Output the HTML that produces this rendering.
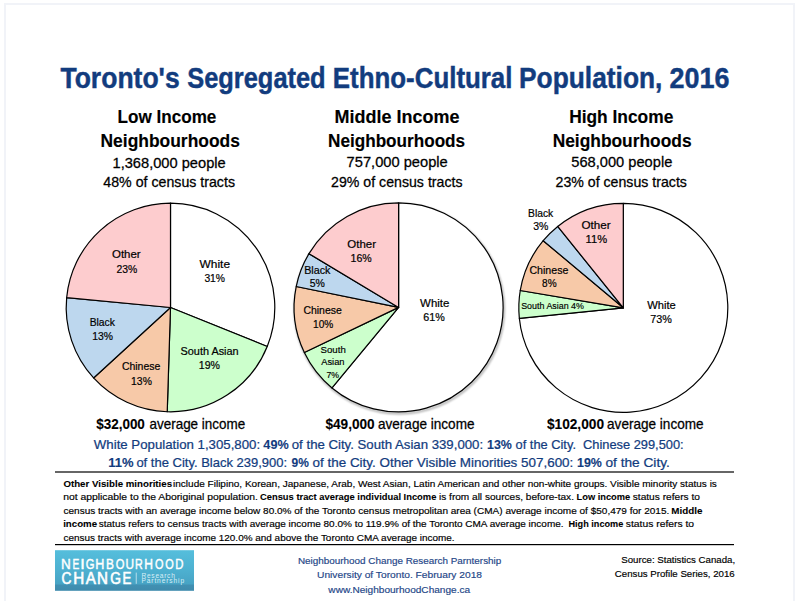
<!DOCTYPE html>
<html><head><meta charset="utf-8"><style>
html,body{margin:0;padding:0;background:#fff;width:795px;height:601px;overflow:hidden}
svg{display:block;font-family:"Liberation Sans",sans-serif}
</style></head><body>
<svg width="795" height="601" viewBox="0 0 795 601">
<rect x="0" y="0" width="795" height="601" fill="#fff"/>
<rect x="5" y="4" width="789" height="620" fill="none" stroke="#F1F3F8" stroke-width="2"/>
<path d="M170.5,307.5 L170.50,203.20 A104.3,104.3 0 0 1 267.23,346.50 Z" fill="#FFFFFF" stroke="#000" stroke-width="1.2" stroke-linejoin="round"/>
<path d="M170.5,307.5 L267.23,346.50 A104.3,104.3 0 0 1 167.22,411.75 Z" fill="#CCFFCC" stroke="#000" stroke-width="1.2" stroke-linejoin="round"/>
<path d="M170.5,307.5 L167.22,411.75 A104.3,104.3 0 0 1 93.58,377.94 Z" fill="#F7C9A8" stroke="#000" stroke-width="1.2" stroke-linejoin="round"/>
<path d="M170.5,307.5 L93.58,377.94 A104.3,104.3 0 0 1 66.66,297.68 Z" fill="#BDD7EE" stroke="#000" stroke-width="1.2" stroke-linejoin="round"/>
<path d="M170.5,307.5 L66.66,297.68 A104.3,104.3 0 0 1 170.50,203.20 Z" fill="#FDCCCE" stroke="#000" stroke-width="1.2" stroke-linejoin="round"/>
<defs><filter id="sh" x="-10%" y="-10%" width="120%" height="120%"><feGaussianBlur stdDeviation="1.2"/></filter></defs>
<circle cx="399.4" cy="309" r="104.5" fill="none" stroke="#000" stroke-width="2" opacity="0.35" filter="url(#sh)"/>
<path d="M398.6,307.4 L398.60,202.90 A104.5,104.5 0 1 1 331.99,387.92 Z" fill="#FFFFFF" stroke="#000" stroke-width="1.2" stroke-linejoin="round"/>
<path d="M398.6,307.4 L331.99,387.92 A104.5,104.5 0 0 1 304.33,352.49 Z" fill="#CCFFCC" stroke="#000" stroke-width="1.2" stroke-linejoin="round"/>
<path d="M398.6,307.4 L304.33,352.49 A104.5,104.5 0 0 1 296.21,286.53 Z" fill="#F7C9A8" stroke="#000" stroke-width="1.2" stroke-linejoin="round"/>
<path d="M398.6,307.4 L296.21,286.53 A104.5,104.5 0 0 1 308.99,253.64 Z" fill="#BDD7EE" stroke="#000" stroke-width="1.2" stroke-linejoin="round"/>
<path d="M398.6,307.4 L308.99,253.64 A104.5,104.5 0 0 1 398.60,202.90 Z" fill="#FDCCCE" stroke="#000" stroke-width="1.2" stroke-linejoin="round"/>
<path d="M623.3,307.8 L623.30,203.30 A104.5,104.5 0 1 1 519.33,318.29 Z" fill="#FFFFFF" stroke="#000" stroke-width="1.2" stroke-linejoin="round"/>
<path d="M623.3,307.8 L519.33,318.29 A104.5,104.5 0 0 1 520.25,290.48 Z" fill="#CCFFCC" stroke="#000" stroke-width="1.2" stroke-linejoin="round"/>
<path d="M623.3,307.8 L520.25,290.48 A104.5,104.5 0 0 1 543.20,240.68 Z" fill="#F7C9A8" stroke="#000" stroke-width="1.2" stroke-linejoin="round"/>
<path d="M623.3,307.8 L543.20,240.68 A104.5,104.5 0 0 1 557.71,226.45 Z" fill="#BDD7EE" stroke="#000" stroke-width="1.2" stroke-linejoin="round"/>
<path d="M623.3,307.8 L557.71,226.45 A104.5,104.5 0 0 1 623.30,203.30 Z" fill="#FDCCCE" stroke="#000" stroke-width="1.2" stroke-linejoin="round"/>
<text x="60.46" y="87.7" font-size="28.8" font-weight="bold" fill="#123C7E" stroke="#123C7E" stroke-width="0.45" textLength="119.21" lengthAdjust="spacingAndGlyphs" xml:space="preserve">Toronto's</text>
<text x="187.26" y="87.7" font-size="28.8" font-weight="bold" fill="#123C7E" stroke="#123C7E" stroke-width="0.45" textLength="138.40" lengthAdjust="spacingAndGlyphs" xml:space="preserve">Segregated</text>
<text x="332.84" y="87.7" font-size="28.8" font-weight="bold" fill="#123C7E" stroke="#123C7E" stroke-width="0.45" textLength="179.61" lengthAdjust="spacingAndGlyphs" xml:space="preserve">Ethno-Cultural</text>
<text x="519.01" y="87.7" font-size="28.8" font-weight="bold" fill="#123C7E" stroke="#123C7E" stroke-width="0.45" textLength="143.38" lengthAdjust="spacingAndGlyphs" xml:space="preserve">Population,</text>
<text x="669.48" y="87.7" font-size="28.8" font-weight="bold" fill="#123C7E" stroke="#123C7E" stroke-width="0.45" textLength="59.93" lengthAdjust="spacingAndGlyphs" xml:space="preserve">2016</text>
<text x="117.56" y="122.6" font-size="17.8" font-weight="bold" fill="#000" stroke="#000" stroke-width="0.142" textLength="98.83" lengthAdjust="spacingAndGlyphs" xml:space="preserve">Low Income</text>
<text x="100.54" y="146.5" font-size="17.8" font-weight="bold" fill="#000" stroke="#000" stroke-width="0.142" textLength="139.37" lengthAdjust="spacingAndGlyphs" xml:space="preserve">Neighbourhoods</text>
<text x="112.53" y="167.9" font-size="14.5" fill="#000" stroke="#000" stroke-width="0.261" textLength="113.19" lengthAdjust="spacingAndGlyphs" xml:space="preserve">1,368,000 people</text>
<text x="103.35" y="186.8" font-size="14.5" fill="#000" stroke="#000" stroke-width="0.261" textLength="131.65" lengthAdjust="spacingAndGlyphs" xml:space="preserve">48% of census tracts</text>
<text x="334.60" y="122.5" font-size="17.8" font-weight="bold" fill="#000" stroke="#000" stroke-width="0.142" textLength="124.86" lengthAdjust="spacingAndGlyphs" xml:space="preserve">Middle Income</text>
<text x="328.06" y="146.5" font-size="17.8" font-weight="bold" fill="#000" stroke="#000" stroke-width="0.142" textLength="137.04" lengthAdjust="spacingAndGlyphs" xml:space="preserve">Neighbourhoods</text>
<text x="346.60" y="167.4" font-size="14.5" fill="#000" stroke="#000" stroke-width="0.261" textLength="101.14" lengthAdjust="spacingAndGlyphs" xml:space="preserve">757,000 people</text>
<text x="331.12" y="186.5" font-size="14.5" fill="#000" stroke="#000" stroke-width="0.261" textLength="131.37" lengthAdjust="spacingAndGlyphs" xml:space="preserve">29% of census tracts</text>
<text x="569.14" y="122.5" font-size="17.8" font-weight="bold" fill="#000" stroke="#000" stroke-width="0.142" textLength="104.20" lengthAdjust="spacingAndGlyphs" xml:space="preserve">High Income</text>
<text x="552.64" y="146.5" font-size="17.8" font-weight="bold" fill="#000" stroke="#000" stroke-width="0.142" textLength="138.97" lengthAdjust="spacingAndGlyphs" xml:space="preserve">Neighbourhoods</text>
<text x="571.34" y="167.4" font-size="14.5" fill="#000" stroke="#000" stroke-width="0.261" textLength="100.99" lengthAdjust="spacingAndGlyphs" xml:space="preserve">568,000 people</text>
<text x="555.52" y="186.5" font-size="14.5" fill="#000" stroke="#000" stroke-width="0.261" textLength="131.37" lengthAdjust="spacingAndGlyphs" xml:space="preserve">23% of census tracts</text>
<text x="111.99" y="258.3" font-size="11.3" fill="#000" stroke="#000" stroke-width="0.203" textLength="28.70" lengthAdjust="spacingAndGlyphs" xml:space="preserve">Other</text>
<text x="116.38" y="272.8" font-size="11.3" fill="#000" stroke="#000" stroke-width="0.203" textLength="20.80" lengthAdjust="spacingAndGlyphs" xml:space="preserve">23%</text>
<text x="199.54" y="267.9" font-size="11.3" fill="#000" stroke="#000" stroke-width="0.203" textLength="30.51" lengthAdjust="spacingAndGlyphs" xml:space="preserve">White</text>
<text x="204.39" y="281.7" font-size="11.3" fill="#000" stroke="#000" stroke-width="0.203" textLength="20.69" lengthAdjust="spacingAndGlyphs" xml:space="preserve">31%</text>
<text x="89.68" y="325.8" font-size="11.3" fill="#000" stroke="#000" stroke-width="0.203" textLength="25.23" lengthAdjust="spacingAndGlyphs" xml:space="preserve">Black</text>
<text x="92.32" y="339.6" font-size="11.3" fill="#000" stroke="#000" stroke-width="0.203" textLength="20.75" lengthAdjust="spacingAndGlyphs" xml:space="preserve">13%</text>
<text x="180.51" y="354.8" font-size="11.3" fill="#000" stroke="#000" stroke-width="0.203" textLength="58.12" lengthAdjust="spacingAndGlyphs" xml:space="preserve">South Asian</text>
<text x="198.81" y="368.6" font-size="11.3" fill="#000" stroke="#000" stroke-width="0.203" textLength="21.18" lengthAdjust="spacingAndGlyphs" xml:space="preserve">19%</text>
<text x="121.88" y="370" font-size="11.3" fill="#000" stroke="#000" stroke-width="0.203" textLength="38.48" lengthAdjust="spacingAndGlyphs" xml:space="preserve">Chinese</text>
<text x="131.12" y="384.5" font-size="11.3" fill="#000" stroke="#000" stroke-width="0.203" textLength="20.75" lengthAdjust="spacingAndGlyphs" xml:space="preserve">13%</text>
<text x="347.29" y="248.1" font-size="11.3" fill="#000" stroke="#000" stroke-width="0.203" textLength="28.70" lengthAdjust="spacingAndGlyphs" xml:space="preserve">Other</text>
<text x="350.61" y="261.5" font-size="11.3" fill="#000" stroke="#000" stroke-width="0.203" textLength="21.18" lengthAdjust="spacingAndGlyphs" xml:space="preserve">16%</text>
<text x="304.14" y="273.9" font-size="11.3" fill="#000" stroke="#000" stroke-width="0.203" textLength="26.26" lengthAdjust="spacingAndGlyphs" xml:space="preserve">Black</text>
<text x="309.68" y="287.3" font-size="11.3" fill="#000" stroke="#000" stroke-width="0.203" textLength="15.19" lengthAdjust="spacingAndGlyphs" xml:space="preserve">5%</text>
<text x="303.38" y="314.4" font-size="11.3" fill="#000" stroke="#000" stroke-width="0.203" textLength="38.48" lengthAdjust="spacingAndGlyphs" xml:space="preserve">Chinese</text>
<text x="313.04" y="327.5" font-size="11.3" fill="#000" stroke="#000" stroke-width="0.203" textLength="20.22" lengthAdjust="spacingAndGlyphs" xml:space="preserve">10%</text>
<text x="320.55" y="352.7" font-size="9.2" fill="#000" stroke="#000" stroke-width="0.166" textLength="25.23" lengthAdjust="spacingAndGlyphs" xml:space="preserve">South</text>
<text x="321.28" y="365.4" font-size="9.2" fill="#000" stroke="#000" stroke-width="0.166" textLength="23.25" lengthAdjust="spacingAndGlyphs" xml:space="preserve">Asian</text>
<text x="326.45" y="377.8" font-size="9.2" fill="#000" stroke="#000" stroke-width="0.166" textLength="12.58" lengthAdjust="spacingAndGlyphs" xml:space="preserve">7%</text>
<text x="420.14" y="307.4" font-size="11.3" fill="#000" stroke="#000" stroke-width="0.203" textLength="29.28" lengthAdjust="spacingAndGlyphs" xml:space="preserve">White</text>
<text x="423.36" y="320.8" font-size="11.3" fill="#000" stroke="#000" stroke-width="0.203" textLength="21.53" lengthAdjust="spacingAndGlyphs" xml:space="preserve">61%</text>
<text x="528.08" y="216.8" font-size="11.3" fill="#000" stroke="#000" stroke-width="0.203" textLength="25.12" lengthAdjust="spacingAndGlyphs" xml:space="preserve">Black</text>
<text x="533.28" y="230.2" font-size="11.3" fill="#000" stroke="#000" stroke-width="0.203" textLength="15.19" lengthAdjust="spacingAndGlyphs" xml:space="preserve">3%</text>
<text x="581.48" y="228.5" font-size="11.3" fill="#000" stroke="#000" stroke-width="0.203" textLength="29.11" lengthAdjust="spacingAndGlyphs" xml:space="preserve">Other</text>
<text x="585.57" y="243.3" font-size="11.3" fill="#000" stroke="#000" stroke-width="0.203" textLength="21.49" lengthAdjust="spacingAndGlyphs" xml:space="preserve">11%</text>
<text x="529.47" y="273.9" font-size="11.3" fill="#000" stroke="#000" stroke-width="0.203" textLength="38.89" lengthAdjust="spacingAndGlyphs" xml:space="preserve">Chinese</text>
<text x="542.05" y="287.3" font-size="11.3" fill="#000" stroke="#000" stroke-width="0.203" textLength="14.50" lengthAdjust="spacingAndGlyphs" xml:space="preserve">8%</text>
<text x="521.18" y="308.7" font-size="8.9" fill="#000" stroke="#000" stroke-width="0.16" textLength="62.76" lengthAdjust="spacingAndGlyphs" xml:space="preserve">South Asian 4%</text>
<text x="647.15" y="308.7" font-size="11.3" fill="#000" stroke="#000" stroke-width="0.203" textLength="28.57" lengthAdjust="spacingAndGlyphs" xml:space="preserve">White</text>
<text x="650.26" y="323.1" font-size="11.3" fill="#000" stroke="#000" stroke-width="0.203" textLength="21.63" lengthAdjust="spacingAndGlyphs" xml:space="preserve">73%</text>
<text x="96.16" y="428.5" font-size="14.5" font-weight="bold" fill="#000" stroke="#000" stroke-width="0.116" textLength="48.72" lengthAdjust="spacingAndGlyphs" xml:space="preserve">$32,000</text>
<text x="149.49" y="428.5" font-size="14.5" fill="#000" stroke="#000" stroke-width="0.261" textLength="95.69" lengthAdjust="spacingAndGlyphs" xml:space="preserve">average income</text>
<text x="325.45" y="428.5" font-size="14.5" font-weight="bold" fill="#000" stroke="#000" stroke-width="0.116" textLength="49.23" lengthAdjust="spacingAndGlyphs" xml:space="preserve">$49,000</text>
<text x="377.99" y="428.5" font-size="14.5" fill="#000" stroke="#000" stroke-width="0.261" textLength="96.50" lengthAdjust="spacingAndGlyphs" xml:space="preserve">average income</text>
<text x="546.95" y="428.5" font-size="14.5" font-weight="bold" fill="#000" stroke="#000" stroke-width="0.116" textLength="57.05" lengthAdjust="spacingAndGlyphs" xml:space="preserve">$102,000</text>
<text x="607.09" y="428.5" font-size="14.5" fill="#000" stroke="#000" stroke-width="0.261" textLength="96.50" lengthAdjust="spacingAndGlyphs" xml:space="preserve">average income</text>
<text x="93.85" y="448.7" font-size="13" fill="#123C7E" stroke="#123C7E" stroke-width="0.234" textLength="166.29" lengthAdjust="spacingAndGlyphs" xml:space="preserve">White Population 1,305,800:</text>
<text x="263.36" y="448.7" font-size="13" font-weight="bold" fill="#123C7E" stroke="#123C7E" stroke-width="0.104" textLength="25.32" lengthAdjust="spacingAndGlyphs" xml:space="preserve">49%</text>
<text x="291.79" y="448.7" font-size="13" fill="#123C7E" stroke="#123C7E" stroke-width="0.234" textLength="191.30" lengthAdjust="spacingAndGlyphs" xml:space="preserve">of the City. South Asian 339,000:</text>
<text x="487.01" y="448.7" font-size="13" font-weight="bold" fill="#123C7E" stroke="#123C7E" stroke-width="0.104" textLength="24.87" lengthAdjust="spacingAndGlyphs" xml:space="preserve">13%</text>
<text x="515.60" y="448.7" font-size="13" fill="#123C7E" stroke="#123C7E" stroke-width="0.234" textLength="168.04" lengthAdjust="spacingAndGlyphs" xml:space="preserve">of the City.  Chinese 299,500:</text>
<text x="108.17" y="466.8" font-size="13" font-weight="bold" fill="#123C7E" stroke="#123C7E" stroke-width="0.104" textLength="25.32" lengthAdjust="spacingAndGlyphs" xml:space="preserve">11%</text>
<text x="136.40" y="466.8" font-size="13" fill="#123C7E" stroke="#123C7E" stroke-width="0.234" textLength="150.71" lengthAdjust="spacingAndGlyphs" xml:space="preserve">of the City. Black 239,900:</text>
<text x="291.53" y="466.8" font-size="13" font-weight="bold" fill="#123C7E" stroke="#123C7E" stroke-width="0.104" textLength="17.32" lengthAdjust="spacingAndGlyphs" xml:space="preserve">9%</text>
<text x="312.58" y="466.8" font-size="13" fill="#123C7E" stroke="#123C7E" stroke-width="0.234" textLength="260.74" lengthAdjust="spacingAndGlyphs" xml:space="preserve">of the City. Other Visible Minorities 507,600:</text>
<text x="577.01" y="466.8" font-size="13" font-weight="bold" fill="#123C7E" stroke="#123C7E" stroke-width="0.104" textLength="24.87" lengthAdjust="spacingAndGlyphs" xml:space="preserve">19%</text>
<text x="605.47" y="466.8" font-size="13" fill="#123C7E" stroke="#123C7E" stroke-width="0.234" textLength="64.35" lengthAdjust="spacingAndGlyphs" xml:space="preserve">of the City.</text>
<rect x="55" y="471" width="679" height="2" fill="#666"/>
<rect x="55" y="544" width="679" height="1.2" fill="#000"/>
<text x="63.45" y="486.8" font-size="9.8" font-weight="bold" fill="#000" stroke="#000" stroke-width="0.078" textLength="108.62" lengthAdjust="spacingAndGlyphs" xml:space="preserve">Other Visible minorities</text>
<text x="173.04" y="486.8" font-size="9.8" fill="#000" stroke="#000" stroke-width="0.176" textLength="543.84" lengthAdjust="spacingAndGlyphs" xml:space="preserve">include Filipino, Korean, Japanese, Arab, West Asian, Latin American and other non-white groups. Visible minority status is</text>
<text x="63.21" y="499.8" font-size="9.8" fill="#000" stroke="#000" stroke-width="0.176" textLength="194.66" lengthAdjust="spacingAndGlyphs" xml:space="preserve">not applicable to the Aboriginal population.</text>
<text x="259.96" y="499.8" font-size="9.8" font-weight="bold" fill="#000" stroke="#000" stroke-width="0.078" textLength="176.43" lengthAdjust="spacingAndGlyphs" xml:space="preserve">Census tract average individual Income</text>
<text x="439.03" y="499.8" font-size="9.8" fill="#000" stroke="#000" stroke-width="0.176" textLength="134.92" lengthAdjust="spacingAndGlyphs" xml:space="preserve">is from all sources, before-tax.</text>
<text x="576.54" y="499.8" font-size="9.8" font-weight="bold" fill="#000" stroke="#000" stroke-width="0.078" textLength="53.68" lengthAdjust="spacingAndGlyphs" xml:space="preserve">Low income</text>
<text x="632.78" y="499.8" font-size="9.8" fill="#000" stroke="#000" stroke-width="0.176" textLength="67.12" lengthAdjust="spacingAndGlyphs" xml:space="preserve">status refers to</text>
<text x="63.49" y="513.6" font-size="9.8" fill="#000" stroke="#000" stroke-width="0.176" textLength="605.83" lengthAdjust="spacingAndGlyphs" xml:space="preserve">census tracts with an average income below 80.0% of the Toronto census metropolitan area (CMA) average income of $50,479 for 2015.</text>
<text x="671.30" y="513.6" font-size="9.8" font-weight="bold" fill="#000" stroke="#000" stroke-width="0.078" textLength="31.12" lengthAdjust="spacingAndGlyphs" xml:space="preserve">Middle</text>
<text x="63.16" y="526.7" font-size="9.8" font-weight="bold" fill="#000" stroke="#000" stroke-width="0.078" textLength="33.95" lengthAdjust="spacingAndGlyphs" xml:space="preserve">income</text>
<text x="98.79" y="526.7" font-size="9.8" fill="#000" stroke="#000" stroke-width="0.176" textLength="464.76" lengthAdjust="spacingAndGlyphs" xml:space="preserve">status refers to census tracts with average income 80.0% to 119.9% of the Toronto CMA average income.</text>
<text x="568.44" y="526.7" font-size="9.8" font-weight="bold" fill="#000" stroke="#000" stroke-width="0.078" textLength="54.84" lengthAdjust="spacingAndGlyphs" xml:space="preserve">High income</text>
<text x="625.78" y="526.7" font-size="9.8" fill="#000" stroke="#000" stroke-width="0.176" textLength="68.34" lengthAdjust="spacingAndGlyphs" xml:space="preserve">status refers to</text>
<text x="63.49" y="540.6" font-size="9.8" fill="#000" stroke="#000" stroke-width="0.176" textLength="391.15" lengthAdjust="spacingAndGlyphs" xml:space="preserve">census tracts with average income 120.0% and above the Toronto CMA average income.</text>
<text x="297.99" y="563.6" font-size="9.3" fill="#1F4788" stroke="#1F4788" stroke-width="0.167" textLength="203.31" lengthAdjust="spacingAndGlyphs" xml:space="preserve">Neighbourhood Change Research Parntership</text>
<text x="317.02" y="578.2" font-size="9.3" fill="#1F4788" stroke="#1F4788" stroke-width="0.167" textLength="165.02" lengthAdjust="spacingAndGlyphs" xml:space="preserve">University of Toronto. February 2018</text>
<text x="328.38" y="592.7" font-size="9.3" fill="#1F4788" stroke="#1F4788" stroke-width="0.167" textLength="141.74" lengthAdjust="spacingAndGlyphs" xml:space="preserve">www.NeighbourhoodChange.ca</text>
<text x="621.25" y="562.7" font-size="9.3" fill="#000" stroke="#000" stroke-width="0.167" textLength="113.93" lengthAdjust="spacingAndGlyphs" xml:space="preserve">Source: Statistics Canada,</text>
<text x="614.80" y="577" font-size="9.3" fill="#000" stroke="#000" stroke-width="0.167" textLength="119.91" lengthAdjust="spacingAndGlyphs" xml:space="preserve">Census Profile Series, 2016</text>
<defs><linearGradient id="lg" x1="0" y1="0" x2="0" y2="1"><stop offset="0" stop-color="#55BEDC"/><stop offset="0.5" stop-color="#4DB0D0"/><stop offset="0.84" stop-color="#47A3C4"/><stop offset="0.85" stop-color="#4190B2"/><stop offset="1" stop-color="#3F8BAD"/></linearGradient></defs>
<rect x="55" y="550.2" width="139" height="40.6" fill="url(#lg)"/>
<text x="60.95" y="568.6" font-size="14.6" fill="#fff" stroke="#fff" stroke-width="0.45" textLength="9.74" lengthAdjust="spacingAndGlyphs" xml:space="preserve">N</text>
<text x="72.51" y="568.6" font-size="14.6" fill="#fff" stroke="#fff" stroke-width="0.45" textLength="6.79" lengthAdjust="spacingAndGlyphs" xml:space="preserve">E</text>
<text x="80.16" y="568.6" font-size="14.6" fill="#fff" stroke="#fff" stroke-width="0.45" textLength="4.53" lengthAdjust="spacingAndGlyphs" xml:space="preserve">I</text>
<text x="85.86" y="568.6" font-size="14.6" fill="#fff" stroke="#fff" stroke-width="0.45" textLength="8.73" lengthAdjust="spacingAndGlyphs" xml:space="preserve">G</text>
<text x="95.32" y="568.6" font-size="14.6" fill="#fff" stroke="#fff" stroke-width="0.45" textLength="9.09" lengthAdjust="spacingAndGlyphs" xml:space="preserve">H</text>
<text x="105.88" y="568.6" font-size="14.6" fill="#fff" stroke="#fff" stroke-width="0.45" textLength="7.92" lengthAdjust="spacingAndGlyphs" xml:space="preserve">B</text>
<text x="115.82" y="568.6" font-size="14.6" fill="#fff" stroke="#fff" stroke-width="0.45" textLength="8.69" lengthAdjust="spacingAndGlyphs" xml:space="preserve">O</text>
<text x="125.54" y="568.6" font-size="14.6" fill="#fff" stroke="#fff" stroke-width="0.45" textLength="8.55" lengthAdjust="spacingAndGlyphs" xml:space="preserve">U</text>
<text x="135.07" y="568.6" font-size="14.6" fill="#fff" stroke="#fff" stroke-width="0.45" textLength="7.71" lengthAdjust="spacingAndGlyphs" xml:space="preserve">R</text>
<text x="144.36" y="568.6" font-size="14.6" fill="#fff" stroke="#fff" stroke-width="0.45" textLength="8.70" lengthAdjust="spacingAndGlyphs" xml:space="preserve">H</text>
<text x="155.04" y="568.6" font-size="14.6" fill="#fff" stroke="#fff" stroke-width="0.45" textLength="8.46" lengthAdjust="spacingAndGlyphs" xml:space="preserve">O</text>
<text x="165.24" y="568.6" font-size="14.6" fill="#fff" stroke="#fff" stroke-width="0.45" textLength="8.46" lengthAdjust="spacingAndGlyphs" xml:space="preserve">O</text>
<text x="175.32" y="568.6" font-size="14.6" fill="#fff" stroke="#fff" stroke-width="0.45" textLength="8.19" lengthAdjust="spacingAndGlyphs" xml:space="preserve">D</text>
<text x="61.61" y="583.6" font-size="15.8" fill="#fff" stroke="#fff" stroke-width="0.6" textLength="9.89" lengthAdjust="spacingAndGlyphs" xml:space="preserve">C</text>
<text x="73.19" y="583.6" font-size="15.8" fill="#fff" stroke="#fff" stroke-width="0.6" textLength="10.96" lengthAdjust="spacingAndGlyphs" xml:space="preserve">H</text>
<text x="85.70" y="583.6" font-size="15.8" fill="#fff" stroke="#fff" stroke-width="0.6" textLength="10.13" lengthAdjust="spacingAndGlyphs" xml:space="preserve">A</text>
<text x="97.09" y="583.6" font-size="15.8" fill="#fff" stroke="#fff" stroke-width="0.6" textLength="10.96" lengthAdjust="spacingAndGlyphs" xml:space="preserve">N</text>
<text x="110.21" y="583.6" font-size="15.8" fill="#fff" stroke="#fff" stroke-width="0.6" textLength="10.69" lengthAdjust="spacingAndGlyphs" xml:space="preserve">G</text>
<text x="122.44" y="583.6" font-size="15.8" fill="#fff" stroke="#fff" stroke-width="0.6" textLength="8.81" lengthAdjust="spacingAndGlyphs" xml:space="preserve">E</text>
<rect x="135.8" y="572.6" width="0.8" height="11.2" fill="#cfeaf4"/>
<text x="141.48" y="577.9" font-size="6.6" fill="#d9eff7" textLength="33.33" lengthAdjust="spacing" xml:space="preserve">Research</text>
<text x="141.43" y="582.9" font-size="6.6" fill="#d9eff7" textLength="42.69" lengthAdjust="spacing" xml:space="preserve">Partnership</text>
</svg></body></html>
